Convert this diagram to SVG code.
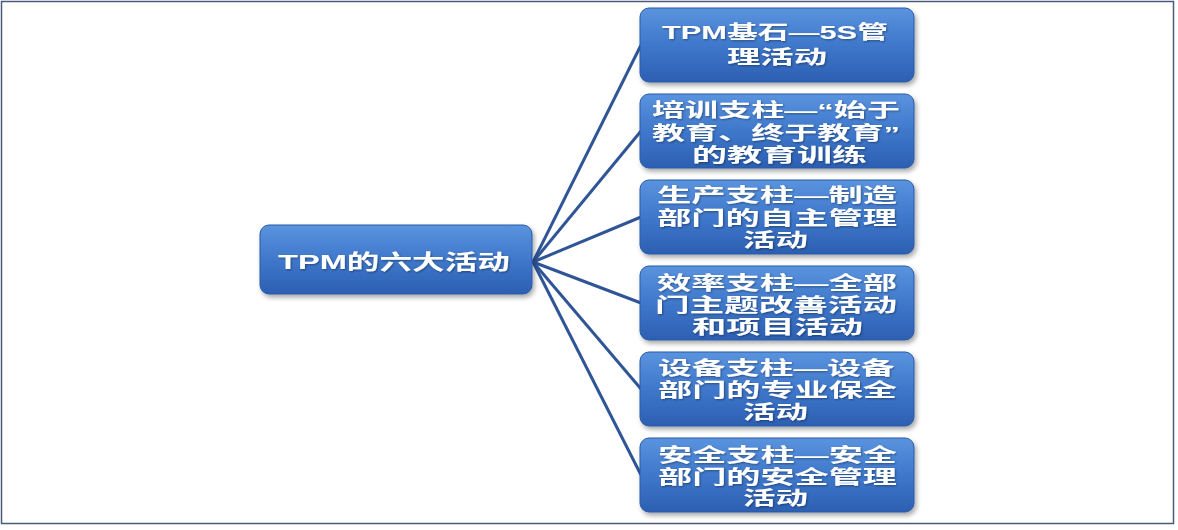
<svg xmlns="http://www.w3.org/2000/svg" width="1178" height="530" viewBox="0 0 1178 530">
<defs>
<linearGradient id="bg" x1="0" y1="0" x2="0" y2="1">
<stop offset="0" stop-color="#5a93de"/>
<stop offset="0.5" stop-color="#3f78cb"/>
<stop offset="1" stop-color="#2c5fb2"/>
</linearGradient>
<filter id="sh" x="-10%" y="-10%" width="125%" height="135%">
<feGaussianBlur in="SourceAlpha" stdDeviation="2.5"/>
<feOffset dx="2" dy="3" result="b"/>
<feComponentTransfer><feFuncA type="linear" slope="0.35"/></feComponentTransfer>
<feMerge><feMergeNode/><feMergeNode in="SourceGraphic"/></feMerge>
</filter>
<filter id="tsh" x="-5%" y="-20%" width="110%" height="150%">
<feGaussianBlur in="SourceAlpha" stdDeviation="1"/>
<feOffset dx="1" dy="1"/>
<feComponentTransfer><feFuncA type="linear" slope="0.4"/></feComponentTransfer>
<feMerge><feMergeNode/><feMergeNode in="SourceGraphic"/></feMerge>
</filter>
</defs>
<style>
.box{fill:url(#bg);stroke:#2a5aa8;stroke-width:1;filter:url(#sh)}
.t{font-family:"Liberation Sans","Noto Sans CJK SC",sans-serif;font-weight:bold;font-size:19px;fill:#ffffff;filter:url(#tsh)}
.m{font-size:21px}
.c{stroke:#2f5597;stroke-width:3;fill:none}
</style>
<rect x="1.5" y="1.5" width="1172" height="522" fill="#ffffff" stroke="#4a5a7a" stroke-width="1.5"/>
<g id="connectors">
<line class="c" x1="533" y1="262" x2="641" y2="45"/>
<line class="c" x1="533" y1="262" x2="641" y2="131"/>
<line class="c" x1="533" y1="262" x2="641" y2="217"/>
<line class="c" x1="533" y1="262" x2="641" y2="303"/>
<line class="c" x1="533" y1="262" x2="641" y2="389"/>
<line class="c" x1="533" y1="262" x2="641" y2="475"/>
</g>
<g id="root">
<rect class="box" x="260" y="225" width="272" height="69" rx="9"/>
<text class="t m" x="278" y="269" textLength="232" lengthAdjust="spacingAndGlyphs">TPM的六大活动</text>
</g>
<g id="n1">
<rect class="box" x="640" y="8" width="274" height="74" rx="9"/>
<text class="t" x="662" y="39" textLength="226" lengthAdjust="spacingAndGlyphs">TPM基石—5S管</text>
<text class="t" x="727" y="64" textLength="100" lengthAdjust="spacingAndGlyphs">理活动</text>
</g>
<g id="n2">
<rect class="box" x="640" y="94" width="274" height="74" rx="9"/>
<text class="t" x="652" y="117" textLength="248" lengthAdjust="spacingAndGlyphs">培训支柱—“始于</text>
<text class="t" x="652" y="140" textLength="248" lengthAdjust="spacingAndGlyphs">教育、终于教育”</text>
<text class="t" x="692" y="162" textLength="175" lengthAdjust="spacingAndGlyphs">的教育训练</text>
</g>
<g id="n3">
<rect class="box" x="640" y="180" width="274" height="74" rx="9"/>
<text class="t" x="657" y="202" textLength="240" lengthAdjust="spacingAndGlyphs">生产支柱—制造</text>
<text class="t" x="657" y="225" textLength="240" lengthAdjust="spacingAndGlyphs">部门的自主管理</text>
<text class="t" x="743" y="247" textLength="65" lengthAdjust="spacingAndGlyphs">活动</text>
</g>
<g id="n4">
<rect class="box" x="640" y="266" width="274" height="74" rx="9"/>
<text class="t" x="657" y="290" textLength="240" lengthAdjust="spacingAndGlyphs">效率支柱—全部</text>
<text class="t" x="655" y="312" textLength="242" lengthAdjust="spacingAndGlyphs">门主题改善活动</text>
<text class="t" x="692" y="334" textLength="171" lengthAdjust="spacingAndGlyphs">和项目活动</text>
</g>
<g id="n5">
<rect class="box" x="640" y="352" width="274" height="74" rx="9"/>
<text class="t" x="658" y="375" textLength="237" lengthAdjust="spacingAndGlyphs">设备支柱—设备</text>
<text class="t" x="658" y="397" textLength="239" lengthAdjust="spacingAndGlyphs">部门的专业保全</text>
<text class="t" x="743" y="419" textLength="65" lengthAdjust="spacingAndGlyphs">活动</text>
</g>
<g id="n6">
<rect class="box" x="640" y="438" width="274" height="74" rx="9"/>
<text class="t" x="658" y="462" textLength="239" lengthAdjust="spacingAndGlyphs">安全支柱—安全</text>
<text class="t" x="658" y="484" textLength="239" lengthAdjust="spacingAndGlyphs">部门的安全管理</text>
<text class="t" x="743" y="505" textLength="65" lengthAdjust="spacingAndGlyphs">活动</text>
</g>
</svg>
